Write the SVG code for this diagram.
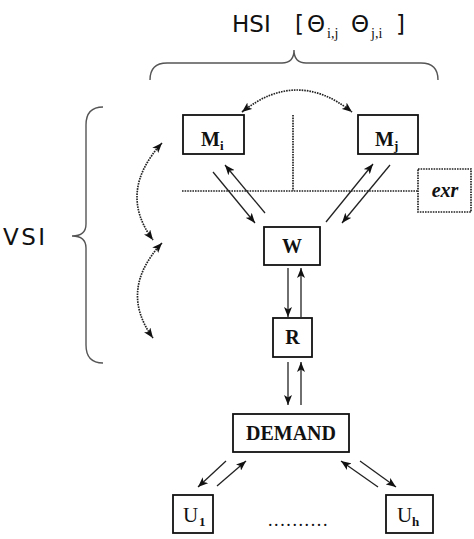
<svg xmlns="http://www.w3.org/2000/svg" width="474" height="539" viewBox="0 0 474 539">
<defs>
<marker id="ah" markerUnits="userSpaceOnUse" markerWidth="10" markerHeight="8" refX="10" refY="4" orient="auto-start-reverse">
<path d="M0,0 L10,4 L0,8 L2.5,4 z" fill="#111"/>
</marker>
<style>
.box{fill:#fff;stroke:#111;stroke-width:1.8}
.lbl{font-family:"Liberation Serif",serif;font-weight:bold;font-size:20px;fill:#111}
.u{font-family:"Liberation Serif",serif;font-size:21px;fill:#111}
.sub{font-family:"Liberation Serif",serif;font-weight:bold;font-size:13px;fill:#111}
.hs{font-family:"Liberation Serif",serif;font-size:14px;fill:#111}
.arr{stroke:#222;stroke-width:1.3;fill:none;marker-end:url(#ah)}
.dot{stroke:#222;stroke-width:1.7;stroke-dasharray:1.6 1;fill:none}
.darr{stroke:#222;stroke-width:1.7;stroke-dasharray:1.6 1;fill:none;marker-start:url(#ah);marker-end:url(#ah)}
.brace{stroke:#555;stroke-width:1.4;fill:none}
.big{font-family:"DejaVu Sans",Verdana,sans-serif;font-size:23px;fill:#111}
</style>
</defs>

<g id="hsi-label">
<text class="big" x="232" y="32">HSI</text>
<text class="big" x="295" y="32">[</text>
<text class="big" x="307" y="32">Θ</text>
<text class="hs" x="327" y="38">i,j</text>
<text class="big" x="351" y="32">Θ</text>
<text class="hs" x="371" y="38">j,i</text>
<text class="big" x="396" y="32">]</text>
</g>
<g id="hsi-brace">
<path class="brace" d="M150,80 Q150,63 167,63 L282,63 Q294,63 294,50 Q294,63 306,63 L421,63 Q438,63 438,80"/>
</g>
<g id="vsi-label">
<text class="big" x="3" y="245" textLength="42">VSI</text>
</g>
<g id="vsi-brace">
<path class="brace" d="M103,107 Q86,107 86,125 L86,224 Q86,236 72,236 Q86,236 86,248 L86,345 Q86,363 103,363"/>
</g>

<g id="boundaries">
<line class="dot" x1="293" y1="115" x2="293" y2="191"/>
<line class="dot" x1="182" y1="191" x2="418" y2="191"/>
</g>

<g id="connectors">
<path class="darr" d="M242,112 Q297,68 352,112"/>
<path class="darr" d="M162,143 Q117,192 153,240"/>
<path class="darr" d="M162,243 Q118,290 153,338"/>
<line class="arr" x1="213" y1="172" x2="255" y2="223"/>
<line class="arr" x1="265" y1="213" x2="225" y2="165"/>
<line class="arr" x1="326" y1="222" x2="373" y2="164"/>
<line class="arr" x1="390" y1="165" x2="342" y2="223"/>
<line class="arr" x1="288" y1="268" x2="288" y2="317"/>
<line class="arr" x1="301" y1="317" x2="301" y2="268"/>
<line class="arr" x1="288" y1="362" x2="288" y2="405"/>
<line class="arr" x1="301" y1="405" x2="301" y2="362"/>
<line class="arr" x1="226" y1="461" x2="198" y2="487"/>
<line class="arr" x1="217" y1="486" x2="246" y2="461"/>
<line class="arr" x1="378" y1="487" x2="341" y2="461"/>
<line class="arr" x1="360" y1="461" x2="396" y2="487"/>
</g>

<g id="Mi">
<rect class="box" x="183" y="115" width="61" height="39"/>
<text class="lbl" x="201" y="146">M</text>
<text class="sub" x="220" y="150">i</text>
</g>
<g id="Mj">
<rect class="box" x="358" y="115" width="60" height="39"/>
<text class="lbl" x="375" y="146">M</text>
<text class="sub" x="394" y="150">j</text>
</g>
<g id="exr">
<rect x="418" y="169" width="53" height="43" fill="#fff" stroke="#222" stroke-width="1.7" stroke-dasharray="1.6 1"/>
<text x="445" y="197" text-anchor="middle" style="font-family:'Liberation Serif',serif;font-weight:bold;font-style:italic;font-size:20px;fill:#111">exr</text>
</g>
<g id="W">
<rect class="box" x="264" y="227" width="56" height="38"/>
<text class="lbl" x="292" y="253" text-anchor="middle">W</text>
</g>
<g id="R">
<rect class="box" x="273" y="318" width="39" height="39"/>
<text class="lbl" x="292.5" y="344" text-anchor="middle">R</text>
</g>
<g id="DEMAND">
<rect class="box" x="233" y="414" width="116" height="38"/>
<text class="lbl" x="291" y="440" text-anchor="middle">DEMAND</text>
</g>
<g id="U1">
<rect class="box" x="173" y="495" width="40" height="38"/>
<text class="u" x="183" y="522">U</text>
<text class="sub" x="199" y="526">1</text>
</g>
<g id="Uh">
<rect class="box" x="386" y="495" width="47" height="38"/>
<text class="u" x="397" y="522">U</text>
<text class="sub" x="412" y="526">h</text>
</g>
<g id="ellipsis">
<text x="268" y="526" style="font-family:'Liberation Serif',serif;font-size:18px;fill:#111;letter-spacing:1.6px">..........</text>
</g>
</svg>
